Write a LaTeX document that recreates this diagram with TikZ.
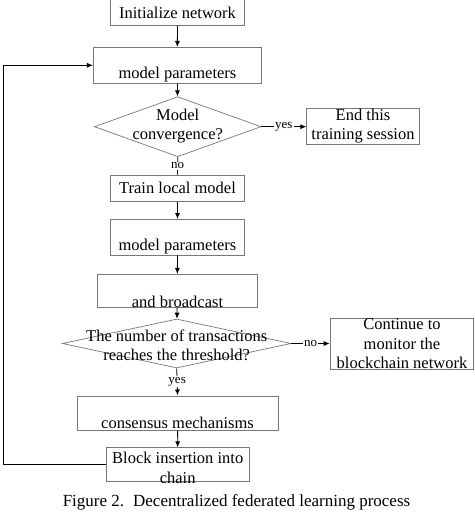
\documentclass[tikz,border=0pt]{standalone}
\usepackage{fontspec}
\setmainfont{Liberation Serif}
\usetikzlibrary{shapes.geometric,arrows.meta}
\definecolor{boxgray}{RGB}{120,120,120}
\begin{document}
\begin{tikzpicture}[x=1pt,y=-1pt,
 box/.style={draw=boxgray,line width=0.7pt,inner sep=0pt,rectangle},
 dia/.style={draw=boxgray,line width=0.7pt,inner sep=0pt,diamond},
 txt/.style={font=\fontsize{16.5}{19.5}\selectfont,align=center,inner sep=0pt},
 lbl/.style={font=\fontsize{13}{15}\selectfont,fill=white,inner sep=1pt},
 arr/.style={-{Latex[length=6pt,width=5pt]},line width=0.8pt},
 ln/.style={line width=0.8pt}]
\useasboundingbox (0,0) rectangle (474,516);
\clip (0,0) rectangle (474,516);
\fill[white] (0,0) rectangle (474,516);
% boxes
\node[box,minimum width=134.4pt,minimum height=35pt] (b1) at (177.5,8) {};
\node[box,minimum width=168pt,minimum height=36pt] (b2) at (177.3,65.3) {};
\node[dia,minimum width=166.7pt,minimum height=60pt] (d1) at (177.7,126.7) {};
\node[box,minimum width=112.6pt,minimum height=35.7pt] (end) at (363,126.2) {};
\node[box,minimum width=134.4pt,minimum height=26.7pt] (b3) at (177.5,188.3) {};
\node[box,minimum width=134.4pt,minimum height=35.7pt] (b4) at (177.5,237.2) {};
\node[box,minimum width=160.7pt,minimum height=33.4pt] (b5) at (177.3,291) {};
\node[dia,minimum width=228.7pt,minimum height=49pt] (d2) at (176.7,343.5) {};
\node[box,minimum width=143.5pt,minimum height=51pt] (cont) at (401.75,343.5) {};
\node[box,minimum width=201.3pt,minimum height=34.3pt] (b6) at (177.6,413) {};
\node[box,minimum width=143.3pt,minimum height=34pt] (b7) at (177.7,464.7) {};
% texts
\node[txt] (t1) at (177.5,13) {Initialize network};
\node[txt] (t2) at (177.5,75) {model parameters};
\node[txt] (t3) at (177.7,126) {Model\\convergence?};
\node[txt] (t4) at (363,126) {End this\\training session};
\node[txt] (t5) at (177.5,188) {Train local model};
\node[txt] (t6) at (177.5,247) {model parameters};
\node[txt] (t7) at (177.5,301.5) {and broadcast};
\node[txt,font=\fontsize{16.5}{19}\selectfont] (t8) at (176.7,345) {The number of transactions\\reaches the threshold?};
\node[txt] (t9) at (402,344) {Continue to\\monitor the\\blockchain network};
\node[txt] (t10) at (177.5,422.5) {consensus mechanisms};
\node[txt] (t11) at (177.7,468) {Block insertion into\\chain};
\node[font=\fontsize{17}{20}\selectfont,inner sep=0pt] (cap) at (236.5,502) {Figure 2.\hspace{9pt}Decentralized federated learning process};
% connectors
\draw[arr] (b1) -- (b2);
\draw[arr] (b2) -- (d1);
\draw[arr] (d1.east) -- node[lbl] (ly1) {yes} (d1.east -| end.west);
\draw[ln] (d1.south) -- node[lbl] (ln1) {no} (b3.north);
\draw[arr] (b3) -- (b4);
\draw[arr] (b4) -- (b5);
\draw[arr] (b5) -- (d2);
\draw[arr] (d2.east) -- node[lbl] (ln2) {no} (cont.west);
\draw[arr] (d2.south) -- node[lbl] (ly2) {yes} (b6.north);
\draw[arr] (b6) -- (b7);
\coordinate (lp) at (3,464.7);
\draw[arr] (b7.west) -- (lp) |- (b2.west);
\end{tikzpicture}
\end{document}
